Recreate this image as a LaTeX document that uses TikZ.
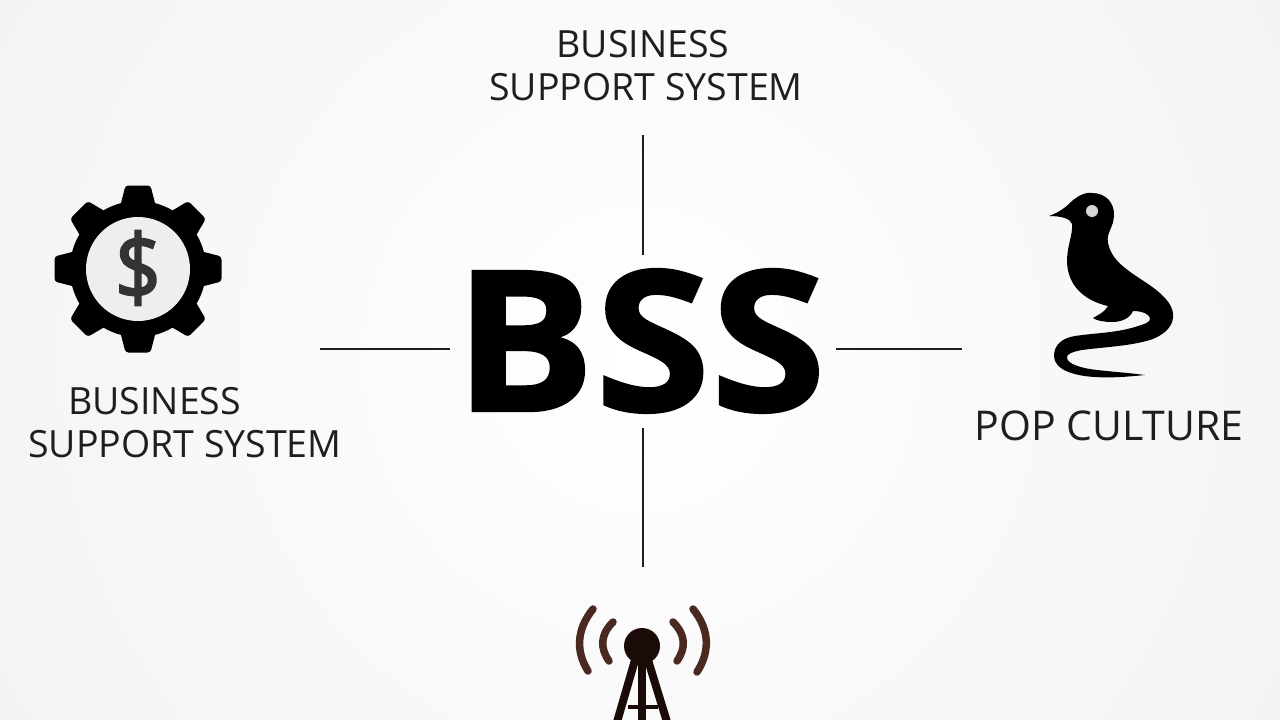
\documentclass[tikz,border=0pt]{standalone}
\usepackage{fontspec}
\setmainfont{Open Sans}
\usetikzlibrary{positioning,calc}
\definecolor{pageedge}{HTML}{F3F3F3}
\definecolor{inkdark}{HTML}{1E1E1E}
\definecolor{gearface}{HTML}{EEEEEE}
\definecolor{waveink}{HTML}{4A2A20}
\definecolor{towerink}{HTML}{1A0A08}
\tikzset{
    bssdiagram/.style={
        x=1pt,
        y=-1pt,
        % Stile per le etichette
        caption/.style={text=inkdark, inner sep=0pt, align=left,
                        font=\fontsize{37.5}{43}\selectfont},
        % Stile per il titolo centrale
        bsstitle/.style={text=black, inner sep=0pt, align=center,
                         minimum width=386pt, minimum height=173pt,
                         font=\fontsize{196}{196}\bfseries\addfontfeatures{FakeBold=1.2,FakeStretch=1.07}},
        spoke/.style={draw=inkdark, line width=2.8pt},
        wave/.style={draw=waveink, line width=7.5pt, line cap=round},
        towerleg/.style={draw=towerink, line width=8pt}
    }
}
\begin{document}
\begin{tikzpicture}[bssdiagram]
    \useasboundingbox (0,0) rectangle (1280,720);
    \begin{scope}
        \clip (0,0) rectangle (1280,720);
        \shade[inner color=white, outer color=pageedge] (640,360) circle (740);
    \end{scope}
    % Titolo e raggi
    \node[bsstitle] (bss) at (643,341.5) {\raisebox{3pt}{\hspace*{-6pt}BSS}};
    \coordinate (topend) at (643,135);
    \coordinate (bottomend) at (643,567);
    \coordinate (leftend) at (320,349);
    \coordinate (rightend) at (962,349);
    \draw[spoke] (bss.north) -- (topend);
    \draw[spoke] (bss.south) -- (bottomend);
    \draw[spoke] (bss.west |- leftend) -- (leftend);
    \draw[spoke] (bss.east |- rightend) -- (rightend);
    % Etichette
    \node[caption, align=center, anchor=base] (toplabel) at (646,100.5) {\hspace*{-6pt}BUSINESS\\SUPPORT SYSTEM};
    \node[caption, anchor=base west] (leftlabel) at (28,457.5) {\hspace*{40pt}BUSINESS\\SUPPORT SYSTEM};
    \node[caption, anchor=base, font=\fontsize{41}{43}\selectfont] (rightlabel) at (1109,440.5) {POP CULTURE};
    % Ingranaggio
    \foreach \a in {0,45,...,315} {
        \fill[black, rounded corners=3pt, shift={(138,269)}, rotate=\a]
            (-18,-62) -- (-12.5,-83.5) -- (12.5,-83.5) -- (18,-62) -- cycle;
    }
    \fill[black] (138,269) circle (68);
    \fill[gearface] (138,269) circle (52);
    \node[text=black!80, inner sep=0pt, font=\fontsize{91}{91}\selectfont\addfontfeatures{FakeBold=2.5,FakeStretch=0.88}] (dollar) at (138,268) {\$};
    % Uccello
    \fill[black] (1049,216)
        .. controls (1060,212) and (1066,207) .. (1072,201)
        .. controls (1080,194) and (1088,192) .. (1092,193)
        .. controls (1106,193) and (1114,203) .. (1114,214)
        .. controls (1114,228) and (1106,232) .. (1108,243)
        .. controls (1111,258) and (1122,266) .. (1133,274)
        .. controls (1145,282) and (1155,288) .. (1163,296)
        .. controls (1170,303) and (1174,310) .. (1173,318)
        .. controls (1172,328) and (1162,336) .. (1150,340)
        .. controls (1130,346) and (1105,347) .. (1082,350)
        .. controls (1072,352) and (1066,354) .. (1067,358)
        .. controls (1068,364) and (1080,368) .. (1097,370)
        .. controls (1115,372) and (1130,373) .. (1145,375)
        .. controls (1125,377) and (1110,378) .. (1095,377)
        .. controls (1075,376) and (1054,370) .. (1054,356)
        .. controls (1054,345) and (1062,338) .. (1075,336)
        .. controls (1095,333) and (1115,333) .. (1135,327)
        .. controls (1145,324) and (1151,322) .. (1150,318)
        .. controls (1149,314) and (1142,311) .. (1133,311)
        .. controls (1130,318) and (1122,322) .. (1112,322)
        .. controls (1105,322) and (1097,321) .. (1093,318)
        .. controls (1098,315) and (1105,312) .. (1108,306)
        .. controls (1090,302) and (1068,290) .. (1067,262)
        .. controls (1067,245) and (1073,235) .. (1072,224)
        .. controls (1071,219) and (1062,216) .. (1049,216) -- cycle;
    \fill[gearface!90!black] (1092,211) circle (6);
    % Antenna
    \draw[wave] (593,609) .. controls (576,630) and (576,652) .. (588,671);
    \draw[wave] (613,622) .. controls (600,635) and (600,648) .. (609,661);
    \draw[wave] (693,609) .. controls (710,630) and (710,652) .. (697,672);
    \draw[wave] (673,622) .. controls (686,635) and (686,648) .. (677,661);
    \draw[towerleg] (635,660) -- (617,722);
    \draw[towerleg] (648,660) -- (667,722);
    \draw[towerleg] (642,655) -- (642,722);
    \draw[towerleg, line width=4.5pt] (628,707) -- (658,707);
    \fill[towerink] (642,646) circle (18);
\end{tikzpicture}
\end{document}
